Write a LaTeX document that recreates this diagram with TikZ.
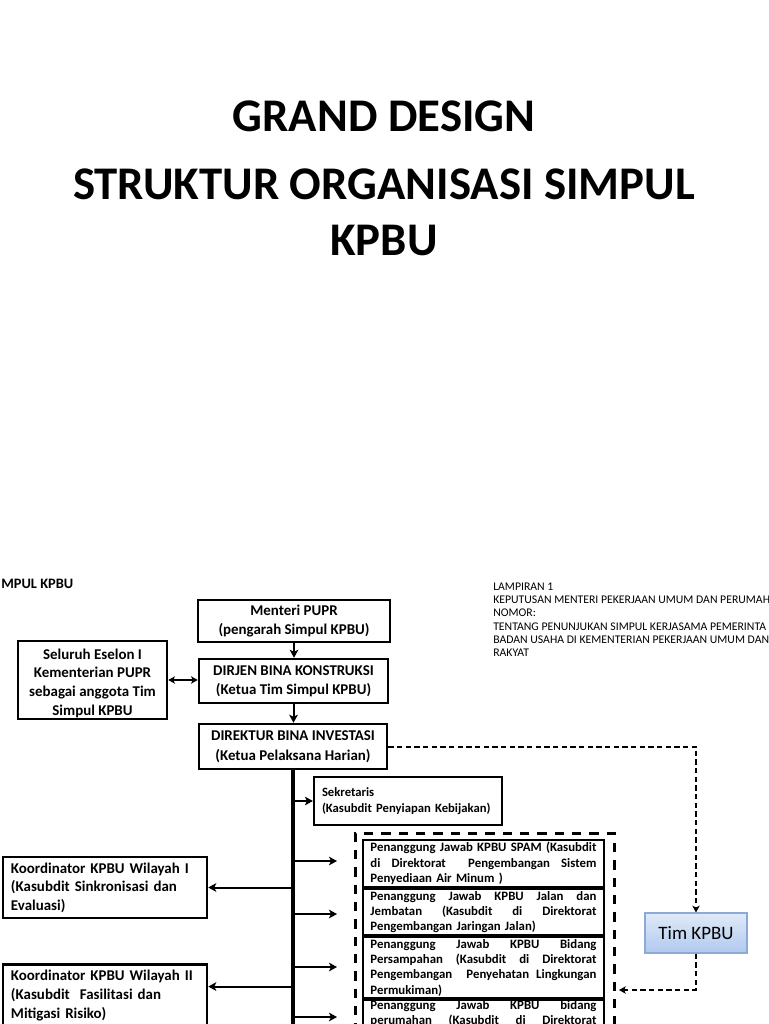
\documentclass[tikz,border=0pt]{standalone}
\usepackage{fontspec}
\setmainfont{Carlito}
\usetikzlibrary{arrows.meta}
\definecolor{timtop}{HTML}{E0EAF8}
\definecolor{timbot}{HTML}{B0C9EE}
\definecolor{timline}{HTML}{8DA9D8}
\newlength{\jw}\setlength{\jw}{169.5pt}
\newcommand{\jrow}[1]{{\spaceskip=0.23em plus 4em minus 0.05em\relax\xspaceskip=\spaceskip\makebox[\jw][s]{#1}}}
\begin{document}
\begin{tikzpicture}[x=0.75pt,y=-0.75pt,
  title/.style={font=\fontsize{35.1}{40}\selectfont\bfseries, inner sep=0pt},
  box/.style={draw, line width=1.9pt, align=center, inner sep=0pt,
    font=\fontsize{11.2}{14}\selectfont\bfseries},
  leftbox/.style={box, align=left, inner xsep=6pt},
  innerbox/.style={draw, line width=1.5pt, anchor=north west, align=left,
    text width=169.5pt, inner xsep=5.6pt, inner ysep=0pt,
    font=\fontsize{9.6}{11.5}\selectfont\bfseries},
  groupbox/.style={draw, line width=2.2pt, dash pattern=on 7pt off 6pt, inner sep=0pt},
  arr/.style={line width=1.5pt, -{Stealth[length=6pt,width=6.5pt,inset=1.5pt]}},
  dblarr/.style={line width=1.5pt, {Stealth[length=5pt,width=5.5pt,inset=1.2pt]}-{Stealth[length=5pt,width=5.5pt,inset=1.2pt]}},
  trunk/.style={line width=2.3pt},
  dconn/.style={line width=1.5pt, dash pattern=on 4pt off 2.5pt, -{Stealth[length=5pt,width=5.5pt,inset=1.2pt]}},
  timbox/.style={draw=timline, line width=0.8pt, top color=timtop, bottom color=timbot, inner sep=0pt,
    font=\fontsize{14.2}{16}\selectfont}
]
\useasboundingbox (0,0) rectangle (768,1024);
\clip (0,0) rectangle (768,1024);
\fill[white] (0,0) rectangle (768,1024);

% titles
\node[title, anchor=base] (t1) at (384,131) {GRAND DESIGN};
\node[title, anchor=base] (t2) at (384,199) {STRUKTUR ORGANISASI SIMPUL};
\node[title, anchor=base] (t3) at (384,255) {KPBU};

% header texts
\node[anchor=base west, inner sep=0pt, font=\fontsize{10.8}{12}\selectfont\bfseries] (hdr) at (1,588) {MPUL KPBU};
\node[anchor=north west, inner sep=0pt, align=left, font=\fontsize{8.8}{10}\selectfont] (lamp) at (493,582.5)
  {LAMPIRAN 1\\KEPUTUSAN MENTERI PEKERJAAN UMUM DAN PERUMAH\\NOMOR:\\TENTANG PENUNJUKAN SIMPUL KERJASAMA PEMERINTA\\BADAN USAHA DI KEMENTERIAN PEKERJAAN UMUM DAN\\RAKYAT};

% main boxes
\node[box, minimum width=144pt, minimum height=31.5pt] (menteri) at (294,621)
  {Menteri PUPR\\(pengarah Simpul KPBU)};
\node[box, minimum width=111.75pt, minimum height=58.5pt,
  font=\fontsize{11.2}{14}\selectfont\bfseries] (eselon) at (92.5,680)
  {\rule{0pt}{12.3pt}Seluruh Eselon I\\Kementerian PUPR\\sebagai anggota Tim\\Simpul KPBU};
\node[box, minimum width=141.75pt, minimum height=33pt] (dirjen) at (293.5,681)
  {DIRJEN BINA KONSTRUKSI\\(Ketua Tim Simpul KPBU)};
\node[box, minimum width=141pt, minimum height=33.75pt,
  font=\fontsize{11.2}{15}\selectfont\bfseries] (direktur) at (293,746.5)
  {DIREKTUR BINA INVESTASI\\(Ketua Pelaksana Harian)};
\node[leftbox, line width=1.6pt, text width=129pt, minimum height=36pt,
  font=\fontsize{9.5}{12}\selectfont\bfseries] (sekretaris) at (408,801)
  {Sekretaris\\(Kasubdit Penyiapan Kebijakan)};
\node[leftbox, text width=141pt, minimum height=45.75pt,
  font=\fontsize{11.2}{13.9}\selectfont\bfseries] (koord1) at (105,887.5)
  {Koordinator KPBU Wilayah I\\(Kasubdit Sinkronisasi dan\\Evaluasi)};
\node[leftbox, text width=141pt, minimum height=46.5pt,
  font=\fontsize{11.2}{14.2}\selectfont\bfseries] (koord2) at (105,995.5)
  {Koordinator KPBU Wilayah II\\(Kasubdit\ \ Fasilitasi dan\\Mitigasi Risiko)};

% dashed group with stacked boxes
\node[groupbox, anchor=north west, minimum width=194.25pt, minimum height=171pt] (group) at (354,832) {};
\node[innerbox, minimum height=35.25pt] (pj1) at (362,839)
  {\jrow{Penanggung Jawab KPBU SPAM (Kasubdit}\\\jrow{di Direktorat\ \ Pengembangan Sistem}\\Penyediaan Air Minum )};
\node[innerbox, minimum height=34.5pt] (pj2) at (pj1.south west)
  {\jrow{Penanggung Jawab KPBU Jalan dan}\\\jrow{Jembatan (Kasubdit di Direktorat}\\Pengembangan Jaringan Jalan)};
\node[innerbox, minimum height=45.75pt] (pj3) at (pj2.south west)
  {\jrow{Penanggung Jawab KPBU Bidang}\\\jrow{Persampahan (Kasubdit di Direktorat}\\\jrow{Pengembangan\ \ Penyehatan Lingkungan}\\Permukiman)};
\node[innerbox, inner ysep=0.3pt] (pj4) at (pj3.south west)
  {\jrow{Penanggung Jawab KPBU bidang}\\\jrow{perumahan (Kasubdit di Direktorat}\rule[-30pt]{0pt}{30pt}};

% Tim KPBU
\node[timbox, minimum width=76.5pt, minimum height=30pt] (tim) at (696,933) {Tim KPBU};

% connectors
\coordinate (tend) at (293,1040);
\draw[trunk] (direktur.south) -- (direktur.south |- tend);
\draw[arr] (menteri.south) -- (menteri.south |- dirjen.north);
\draw[arr] (dirjen.south) -- (dirjen.south |- direktur.north);
\draw[dblarr] (eselon.east) -- (eselon.east -| dirjen.west);
\draw[arr] (direktur.south |- sekretaris.west) -- (sekretaris.west);
\coordinate (g1) at (337,861);
\coordinate (g2) at (337,914);
\coordinate (g3) at (337,967);
\coordinate (g4) at (337,1017);
\draw[arr] (direktur.south |- g1) -- (g1);
\draw[arr] (direktur.south |- g2) -- (g2);
\draw[arr] (direktur.south |- g3) -- (g3);
\draw[arr] (direktur.south |- g4) -- (g4);
\draw[arr] (direktur.south |- koord1.east) -- (koord1.east);
\coordinate (k2a) at ([yshift=-17.5pt]koord2.north east);
\draw[arr] (direktur.south |- k2a) -- (k2a);
\draw[dconn] (direktur.east) -- (direktur.east -| tim.north) -- (tim.north);
\coordinate (ret) at (619,990);
\draw[dconn] (tim.south) |- (ret);
\end{tikzpicture}
\end{document}
